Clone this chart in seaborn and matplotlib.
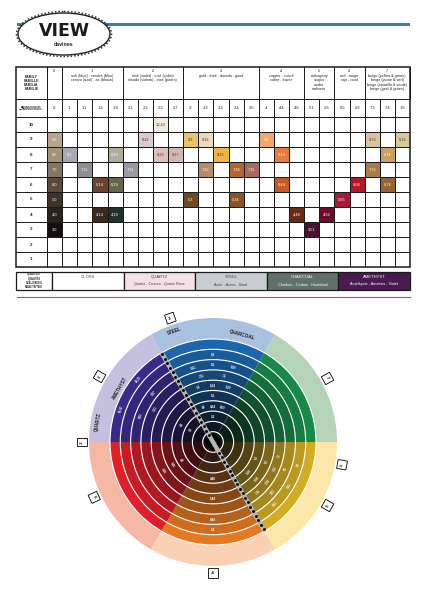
import matplotlib
matplotlib.use("Agg")
import matplotlib.pyplot as plt
from matplotlib.colors import ListedColormap, to_rgb
from matplotlib.patches import Rectangle, Ellipse, Wedge, Circle
import numpy as np
import pandas as pd
import seaborn as sns

# ---- table data ----
levels = [10, 9, 8, 7, 6, 5, 4, 3, 2, 1]
reflects = [".0", ".1", ".11", ".14", ".19", ".21", ".22", ".23", ".27",
            ".3", ".32", ".33", ".34", ".35", ".4", ".44", ".46",
            ".51", ".56", ".65", ".66", ".73", ".74", ".76"]
family_codes = [".0", ".1", ".2", ".3", ".4", ".5", ".6", ".7"]
family_spans = [1, 4, 4, 5, 3, 2, 2, 3]
family_names = ["",
                "ash (blue) - cendré (bleu)\ncenizo (azul) - as (blauw)",
                "irisé (violet) - irisé (violet)\nirisado (violeta) - irisé (paars)",
                "gold - doré - dorado - goud",
                "copper - cuivré\ncobre - koper",
                "mahogany\nacajou\ncaoba\nmahonie",
                "red - rouge\nrojo - rood",
                "beige (yellow & green)\nbeige (jaune & vert)\nbeige (amarillo & verde)\nbeige (geel & groen)"]

shade_codes = ["10,23",
               "9,0", "9,22", "9,3", "9,32", "9,4", "9,73", "9,76",
               "8,0", "8,1", "8,19", "8,23", "8,27", "8,33", "8,44", "8,74",
               "7,0", "7,11", "7,21", "7,32", "7,34", "7,35", "7,73",
               "6,0", "6,14", "6,19", "6,44", "6,66", "6,74",
               "5,0", "5,3", "5,34", "5,65",
               "4,0", "4,14", "4,19", "4,46", "4,56",
               "3,0", "3,51"]
shade_colors = ["#f1e9df",
                "#b4a58c", "#dccbd0", "#ecc467", "#efd9bc", "#f4a466", "#dcc3a0", "#d7c89a",
                "#a39277", "#a7a9b2", "#aeae98", "#e0c0b8", "#d2b8ae", "#f2b444", "#ec7a36", "#cc9e62",
                "#857565", "#8d8e96", "#999aa2", "#b78a6a", "#b8642e", "#a86a5c", "#aa7a48",
                "#5c4a3c", "#6a4430", "#66664e", "#c65a26", "#b8142a", "#9a6430",
                "#3e3229", "#6e4a22", "#8a5426", "#a8183a",
                "#2a221b", "#3a2a1e", "#22302a", "#6a2a14", "#6a0c2a",
                "#141010", "#4a1230"]

qualities = ["GLOSS", "QUARTZ", "STEEL", "CHARCOAL", "AMETHYST"]
quality_subs = ["", "Quartz - Cuarzo - Quartz Rose", "Acier - Acero - Staal",
                "Charbon - Carbón - Houtskool", "Améthyste - Amatista - Violet"]
quality_colors = ["#ffffff", "#f3e1e7", "#c9cdd3", "#617069", "#4a1a52"]

# ---- wheel data ----
sector_from = [60, 0, -60, -120, -180, 120]
sector_to = [120, 60, 0, -60, -120, 180]
outer_colors = ["#a8c1e1", "#b4d3b7", "#fbe7a7", "#fbd1b6", "#f5b8a5", "#c5bfe0"]
inner_colors = ["#1b66ad", "#178a4a", "#d2ac22", "#e8781f", "#e01f28", "#3b2a8e"]
sector_labels = [
    ["9,1", "8,11", "8,1", "8,19", "7,11", "7,1", "6,1", "6,14", "6,19",
     "5,1", "4,1", "4,14", "4,19", "3,1"],
    [],
    ["9,3", "9,32", "9,33", "8,3", "8,33", "7,3", "7,32", "7,34", "7,35",
     "6,3", "6,34", "5,3", "5,34"],
    ["9,4", "8,44", "6,44", "4,46"],
    ["6,66", "5,65", "4,6"],
    ["10,22", "10,23", "8,23", "8,27", "7,21", "4,2", "3,2"],
]
box_labels = [".1", ".2", ".2", ".6", ".4", ".3", ".3", ".7"]

plt.rcParams["font.family"] = ["Liberation Sans", "DejaVu Sans"]
W, H = 424, 591
fig = plt.figure(figsize=(W / 100, H / 100), dpi=100)
page = fig.add_axes([0, 0, 1, 1])
page.set_xlim(0, W)
page.set_ylim(H, 0)
page.axis("off")

# header bar + logo
page.add_patch(Rectangle((17, 22.5), 393, 3.6, color="#3a7fa0", lw=0))
page.add_patch(Ellipse((64, 34), 92, 42, facecolor="white", edgecolor="#222", lw=1.0))
page.add_patch(Ellipse((64, 34), 95, 45, facecolor="none", edgecolor="#333", lw=1.1,
                       linestyle=(0, (1, 1.3))))
page.text(64, 31, "VIEW", ha="center", va="center", fontsize=12.5, fontweight="bold",
          family="DejaVu Sans", color="#1a1a1a")
page.text(64, 45, "davines", ha="center", va="center", fontsize=3.8, fontweight="bold",
          color="#222")

# table geometry (pixels)
x0, xl, xr = 16, 47, 410
y_top, y_h1, y_h2, y_bot = 67, 99, 117, 267
cw = (xr - xl) / len(reflects)
rh = (y_bot - y_h2) / len(levels)
lw_grid = 0.7
lc = "#1a1a1a"

# header row 1
bounds = xl + cw * np.concatenate([[0], np.cumsum(family_spans)])
for i, (code, name) in enumerate(zip(family_codes, family_names)):
    xc = (bounds[i] + bounds[i + 1]) / 2
    txt = code if not name else code + "\n" + name
    page.text(xc, 69.5, txt, ha="center", va="top", fontsize=2.7, linespacing=1.15,
              color="#222")
for b in bounds:
    page.plot([b, b], [y_top, y_h1], color=lc, lw=lw_grid)
page.text((x0 + xl) / 2, 83, "FAMILY\nFAMILLE\nFAMILIA\nFAMILIE", ha="center",
          va="center", fontsize=2.6, fontweight="bold", linespacing=1.1, color="#222")
page.text((x0 + xl) / 2, 108, "REFLECTS/LEVEL\nREFLETS/NIVEAU\nREFLEJOS/NIVEL\nREFLECTIES/NIVEAU",
          ha="center", va="center", fontsize=1.75, fontweight="bold", linespacing=1.05,
          color="#222")

# header row 2
for j, r in enumerate(reflects):
    xc = xl + cw * (j + 0.5)
    page.text(xc, (y_h1 + y_h2) / 2, r, ha="center", va="center", fontsize=3.0,
              color="#222")
    page.plot([xl + cw * j] * 2, [y_h1, y_h2], color=lc, lw=lw_grid)

# level labels column
for i, lev in enumerate(levels):
    yc = y_h2 + rh * (i + 0.5)
    page.text((x0 + xl) / 2, yc, str(lev), ha="center", va="center", fontsize=3.2,
              fontweight="bold", color="#222")
    page.plot([x0, xl], [y_h2 + rh * i] * 2, color=lc, lw=lw_grid)
for yy in [y_h1, y_h2]:
    page.plot([x0, xr], [yy, yy], color=lc, lw=lw_grid)
page.plot([xl, xl], [y_top, y_bot], color=lc, lw=lw_grid)

# qualities strip
qy0, qy1 = 272, 289.5
qx = [16, 52] + list(52 + (xr - 52) / 5 * np.arange(1, 6))
page.add_patch(Rectangle((qx[0], qy0), qx[1] - qx[0], qy1 - qy0, facecolor="white",
                         edgecolor=lc, lw=0.9))
page.text((qx[0] + qx[1]) / 2, (qy0 + qy1) / 2, "QUALITIES\nQUALITÉS\nCUALIDADES\nKWALITEITEN",
          ha="center", va="center", fontsize=1.9, fontweight="bold", linespacing=1.05,
          color="#222")
for k, (q, sub, col) in enumerate(zip(qualities, quality_subs, quality_colors)):
    a, b = qx[k + 1], qx[k + 2]
    page.add_patch(Rectangle((a, qy0), b - a, qy1 - qy0, facecolor=col, edgecolor=lc, lw=0.9))
    tc = "white" if k >= 3 else "#444"
    page.text((a + b) / 2, 277, q, ha="center", va="center", fontsize=3.0, color=tc)
    if sub:
        page.text((a + b) / 2, 284.5, sub, ha="center", va="center", fontsize=2.7, color=tc)

page.plot([17, 410], [296.5, 296.5], color="#c23f84", lw=0.8)

# ---- shade grid via seaborn heatmap ----
grid = pd.DataFrame(0, index=levels, columns=reflects)
annot = pd.DataFrame("", index=levels, columns=reflects)
for i, code in enumerate(shade_codes):
    lev, ref = code.split(",")
    grid.loc[int(lev), "." + ref] = i + 1
    annot.loc[int(lev), "." + ref] = code
cmap = ListedColormap(["#ffffff"] + shade_colors)

ax = fig.add_axes([xl / W, 1 - y_bot / H, (xr - xl) / W, (y_bot - y_h2) / H])
sns.heatmap(grid, cmap=cmap, vmin=-0.5, vmax=len(shade_colors) + 0.5, cbar=False,
            linewidths=lw_grid, linecolor=lc, annot=annot.values, fmt="",
            annot_kws={"size": 2.8}, xticklabels=False, yticklabels=False, ax=ax)
ax.set_xlabel("")
ax.set_ylabel("")
for t in ax.texts:
    code = t.get_text()
    if code:
        rgb = np.array(to_rgb(shade_colors[shade_codes.index(code)]))
        lum = 0.299 * rgb[0] + 0.587 * rgb[1] + 0.114 * rgb[2]
        t.set_color("#333333" if lum > 0.72 else "white")

# outer border on top
top = fig.add_axes([0, 0, 1, 1], facecolor="none")
top.set_xlim(0, W)
top.set_ylim(H, 0)
top.axis("off")
top.add_patch(Rectangle((x0, y_top), xr - x0, y_bot - y_top, fill=False, edgecolor=lc, lw=1.1))

# ---- color wheel ----
cx, cy, half = 213, 442, 140
wax = fig.add_axes([(cx - half) / W, (H - cy - half) / H, 2 * half / W, 2 * half / H])
wax.set_xlim(-half, half)
wax.set_ylim(-half, half)
wax.set_aspect("equal")
wax.axis("off")

R_out, R_in, n_rings = 124, 103, 10
ring_w = R_in / n_rings
for t1, t2, oc, ic in zip(sector_from, sector_to, outer_colors, inner_colors):
    wax.add_patch(Wedge((0, 0), R_out, t1, t2, width=R_out - R_in, facecolor=oc, lw=0))
    base = np.array(to_rgb(ic))
    dark = np.array([0.03, 0.03, 0.04])
    for L in range(1, n_rings + 1):
        f = (L / n_rings) ** 1.1
        col = dark * (1 - f) + base * f
        wax.add_patch(Wedge((0, 0), L * ring_w, t1, t2, width=ring_w, facecolor=col, lw=0))

for L in range(1, n_rings + 1):
    wax.add_patch(Circle((0, 0), L * ring_w, fill=False, edgecolor="white", lw=0.8))

# dotted divider along 120 / -60 degrees
ang = np.deg2rad(120)
rr = np.linspace(-R_in, R_in, 2)
wax.plot(rr * np.cos(ang), rr * np.sin(ang), color="#b4b4b4", lw=3.2, solid_capstyle="butt")
rd = np.concatenate([np.arange(-R_in + 2, -8, 5.2), np.arange(8, R_in - 1, 5.2)])
wax.plot(rd * np.cos(ang), rd * np.sin(ang), "o", color="black", ms=1.1)
wax.add_patch(Circle((0, 0), 6.5, color="black"))

# shade labels inside rings
for t1, t2, labs in zip(sector_from, sector_to, sector_labels):
    by_level = {}
    for code in labs:
        by_level.setdefault(int(code.split(",")[0]), []).append(code)
    for lev, codes in by_level.items():
        r = (lev - 0.5) * ring_w
        n = len(codes)
        for k, code in enumerate(codes):
            a = t2 - (t2 - t1) * (k + 1) / (n + 1)
            rot = a - 90 if a > 0 else a + 90
            wax.text(r * np.cos(np.deg2rad(a)), r * np.sin(np.deg2rad(a)), code,
                     ha="center", va="center", fontsize=2.2, color="white",
                     fontweight="bold", rotation=rot)

# quality names in the outer ring
for name, a, r in [("STEEL", 109, 117), ("CHARCOAL", 75, 111), ("AMETHYST", 150, 108),
                   ("QUARTZ", 170, 117)]:
    wax.text(r * np.cos(np.deg2rad(a)), r * np.sin(np.deg2rad(a)), name, ha="center",
             va="center", fontsize=3.3, fontweight="bold", color="#222", rotation=a - 90)

# numbered boxes around the wheel
for lab, a in zip(box_labels, [109, 150, 180, -155, -90, -29, -10, 29]):
    r = 131
    rot = a - 90 if a > 0 else a + 90
    wax.text(r * np.cos(np.deg2rad(a)), r * np.sin(np.deg2rad(a)), lab, ha="center",
             va="center", fontsize=3.2, fontweight="bold", color="#111", rotation=rot,
             bbox=dict(boxstyle="square,pad=0.6", facecolor="white", edgecolor="black", lw=0.6))

fig.savefig("out.png", dpi=100)
